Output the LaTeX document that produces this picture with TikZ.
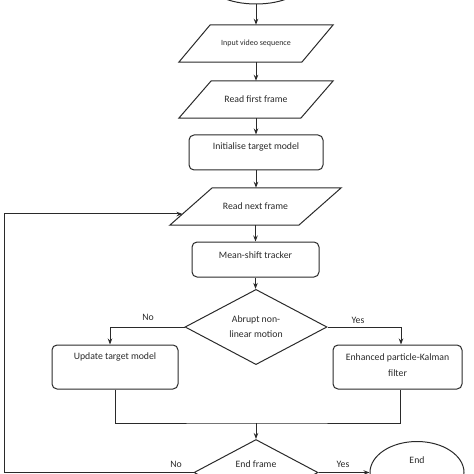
\documentclass[tikz,border=0pt]{standalone}
\usepackage{fontspec}
\setmainfont{Carlito}
\usetikzlibrary{shapes.geometric,arrows.meta}
\definecolor{ink}{HTML}{2A2A2A}
\begin{document}
\begin{tikzpicture}[x=1bp,y=-1bp,
  line/.style={draw=ink, line width=1bp},
  arr/.style={line, -{Stealth[length=6bp,width=4.5bp]}},
  rbox/.style={line, rounded corners=5bp, inner sep=0pt, text=ink, font=\fontsize{9.8}{12}\selectfont},
  parabox/.style={inner sep=0pt, minimum height=37bp, text=ink, font=\fontsize{9.8}{12}\selectfont},
  dia/.style={line, shape=diamond, inner sep=0pt, text=ink, font=\fontsize{9.8}{15}\selectfont, align=center},
  oval/.style={line, shape=ellipse, inner sep=0pt, text=ink, font=\fontsize{9.8}{12}\selectfont},
  lbl/.style={text=ink, font=\fontsize{9.8}{12}\selectfont, inner sep=1pt}
]
\useasboundingbox (0,0) rectangle (474,474);
\clip (0,0) rectangle (474,474);

% start terminator (mostly cut off)
\node[oval, minimum width=96bp, minimum height=44bp] (start) at (256,-18) {};

% Input video sequence
\node[parabox, minimum width=154bp, font=\fontsize{8}{10}\selectfont] (in1) at (256,43.5) {Input video sequence};
\draw[line] (in1.south west) -- ++(123,0) -- (in1.north east) -- ++(-123,0) -- cycle;

% Read first frame
\node[parabox, minimum width=154bp] (rf) at (256,99.5) {Read first frame};
\draw[line] (rf.south west) -- ++(122,0) -- (rf.north east) -- ++(-122,0) -- cycle;

% Initialise target model
\node[rbox, minimum width=134bp, minimum height=35bp,
  label={[lbl, yshift=5.5bp]center:Initialise target model}] (init) at (256,152.5) {};

% Read next frame
\node[parabox, minimum width=171bp] (rn) at (255.5,206.5) {Read next frame};
\draw[line] (rn.south west) -- ++(129,0) -- (rn.north east) -- ++(-129,0) -- cycle;

% Mean-shift tracker
\node[rbox, minimum width=127bp, minimum height=35bp,
  label={[lbl, yshift=4.5bp]center:Mean-shift tracker}] (ms) at (255.5,259.5) {};

% decision 1
\node[dia, minimum width=142bp, minimum height=66bp] (d1) at (256,327) {Abrupt non-\\linear motion};

% branches
\node[rbox, minimum width=126bp, minimum height=44bp,
  label={[lbl, yshift=10bp]center:Update target model}] (ut) at (115,367) {};
\node[rbox, minimum width=129bp, minimum height=44bp,
  label={[lbl, yshift=1.5bp, align=center, font=\fontsize{9.8}{16}\selectfont]center:Enhanced particle-Kalman\\filter}] (ek) at (397.5,367) {};

% decision 2
\node[dia, minimum width=124bp, minimum height=66bp,
  label={[lbl, yshift=8bp]center:End frame}] (d2) at (256,472.5) {};

% end terminator
\node[oval, minimum width=94bp, minimum height=62bp,
  label={[lbl, yshift=12bp]center:End}] (endn) at (417,472.5) {};

% helper coordinates
\coordinate (merge) at (256,423);
\coordinate (loopin) at (182.5,214);
\coordinate (loopleft) at (4,214);

% connectors
\draw[arr] (start.south) -- (in1.north);
\draw[arr] (in1.south) -- (rf.north);
\draw[arr] (rf.south) -- (init.north);
\draw[arr] (init.south) -- (rn.north -| init.south);
\draw[arr] (rn.south -| ms.north) -- (ms.north);
\draw[arr] (ms.south) -- (d1.north -| ms.south);
\draw[arr] (d1.west) -| ([xshift=-5bp]ut.north);
\draw[arr] (d1.east) -| ([xshift=3.5bp]ek.north);
\draw[line] (ut.south) |- (merge) -| ([xshift=2.5bp]ek.south);
\draw[arr] (merge) -- (d2.north);
\draw[arr] (d2.east) -- (endn.west);
\draw[arr] (d2.west) -| (loopleft) -- (loopin);

% labels
\node[lbl] (lno1) at (148,317) {No};
\node[lbl] (lyes1) at (358,320) {Yes};
\node[lbl] (lno2) at (176,464) {No};
\node[lbl] (lyes2) at (343,464) {Yes};
\end{tikzpicture}
\end{document}
